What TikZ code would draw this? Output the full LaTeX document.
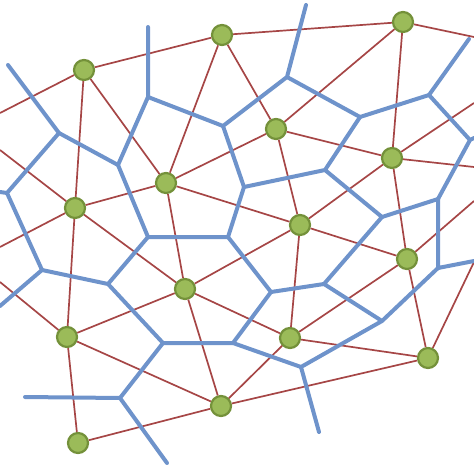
\documentclass[tikz,border=0pt]{standalone}
\usepackage{xcolor}
\usepackage{tikz}
\usetikzlibrary{positioning}
\definecolor{voronoiblue}{RGB}{110,147,203}
\definecolor{delaunayred}{RGB}{166,70,70}
\definecolor{sitegreen}{RGB}{155,187,89}
\definecolor{siteborder}{RGB}{116,145,58}
\begin{document}
\begin{tikzpicture}[x=1pt, y=-1pt]
\tikzstyle{site}     = [circle, draw=siteborder, line width=2.2pt, fill=sitegreen, minimum size=20pt, inner sep=0pt]
\tikzstyle{delaunay} = [draw=delaunayred, line width=1.7pt]
\tikzstyle{voronoi}  = [draw=voronoiblue, line width=4pt, line cap=round]
\useasboundingbox (0,0) rectangle (474,474);
% sites
\node[site] at (84,70)   (s1){};
\node[site] at (222,35)  (s2){};
\node[site] at (403,22)  (s3){};
\node[site] at (276,129) (s4){};
\node[site] at (392,158) (s5){};
\node[site] at (166,183) (s6){};
\node[site] at (75,208)  (s7){};
\node[site] at (300,225) (s8){};
\node[site] at (407,259) (s9){};
\node[site] at (185,289) (s10){};
\node[site] at (67,337)  (s11){};
\node[site] at (290,338) (s12){};
\node[site] at (428,358) (s13){};
\node[site] at (221,406) (s14){};
\node[site] at (78,443)  (s15){};
% open ends of the triangulation
\coordinate (dl1) at (0,113);
\coordinate (dl2) at (0,150);
\coordinate (dl3) at (0,247);
\coordinate (dl4) at (0,282);
\coordinate (dr1) at (474,37);
\coordinate (dr2) at (474,103);
\coordinate (dr3) at (474,167);
\coordinate (dr4) at (474,201);
\coordinate (dr5) at (474,262);
% voronoi vertices
\coordinate (v1)  at (148,97);
\coordinate (v2)  at (223,126);
\coordinate (v3)  at (118,165);
\coordinate (v4)  at (59,133);
\coordinate (v5)  at (148,237);
\coordinate (v6)  at (7,193);
\coordinate (v7)  at (42,270);
\coordinate (v8)  at (108,284);
\coordinate (v9)  at (163,343);
\coordinate (v10) at (233,343);
\coordinate (v11) at (120,398);
\coordinate (v12) at (287,77);
\coordinate (v13) at (360,117);
\coordinate (v14) at (429,95);
\coordinate (v15) at (470,140);
\coordinate (v16) at (438,199);
\coordinate (v17) at (325,170);
\coordinate (v18) at (244,187);
\coordinate (v19) at (228,237);
\coordinate (v20) at (382,217);
\coordinate (v21) at (438,268);
\coordinate (v22) at (382,321);
\coordinate (v23) at (301,367);
\coordinate (v24) at (324,284);
\coordinate (v25) at (271,292);
% open ends of the voronoi cells
\coordinate (e1)  at (148,27);
\coordinate (e2)  at (8,65);
\coordinate (e3)  at (0,192);
\coordinate (e4)  at (0,306);
\coordinate (e5)  at (25,397);
\coordinate (e6)  at (167,463);
\coordinate (e7)  at (319,432);
\coordinate (e8)  at (474,261);
\coordinate (e9)  at (474,138);
\coordinate (e10) at (469,39);
\coordinate (e11) at (306,5);
% delaunay edges
\draw[delaunay] (s1) -- (s2)  (s1) -- (s6)  (s1) -- (s7)  (s1) -- (dl1);
\draw[delaunay] (s2) -- (s3)  (s2) -- (s6)  (s2) -- (s4);
\draw[delaunay] (s3) -- (s4)  (s3) -- (s5)  (s3) -- (dr1);
\draw[delaunay] (s4) -- (s6)  (s4) -- (s5)  (s4) -- (s8);
\draw[delaunay] (s5) -- (s8)  (s5) -- (s9)  (s5) -- (dr2)  (s5) -- (dr3);
\draw[delaunay] (s6) -- (s7)  (s6) -- (s8)  (s6) -- (s10);
\draw[delaunay] (s7) -- (s10) (s7) -- (s11) (s7) -- (dl2)  (s7) -- (dl3);
\draw[delaunay] (s8) -- (s9)  (s8) -- (s10) (s8) -- (s12);
\draw[delaunay] (s9) -- (s12) (s9) -- (s13) (s9) -- (dr4);
\draw[delaunay] (s10) -- (s11) (s10) -- (s12) (s10) -- (s14);
\draw[delaunay] (s11) -- (s14) (s11) -- (s15) (s11) -- (dl4);
\draw[delaunay] (s12) -- (s14) (s12) -- (s13);
\draw[delaunay] (s13) -- (s14) (s13) -- (dr5);
\draw[delaunay] (s14) -- (s15);
% voronoi edges
\draw[voronoi] (e1) -- (v1) -- (v2)  (v1) -- (v3);
\draw[voronoi] (e2) -- (v4) -- (v3) -- (v5) -- (v19);
\draw[voronoi] (v4) -- (v6) -- (e3)  (v6) -- (v7) -- (e4);
\draw[voronoi] (v7) -- (v8) -- (v5)  (v8) -- (v9) -- (v10);
\draw[voronoi] (e5) -- (v11) -- (e6)  (v9) -- (v11);
\draw[voronoi] (e11) -- (v12) -- (v2) -- (v18)  (v12) -- (v13) -- (v14) -- (e10);
\draw[voronoi] (v14) -- (v15) -- (e9)  (v15) -- (v16);
\draw[voronoi] (v13) -- (v17) -- (v18) -- (v19)  (v17) -- (v20) -- (v16) -- (v21) -- (e8);
\draw[voronoi] (v21) -- (v22) -- (v23) -- (e7)  (v22) -- (v24) -- (v20);
\draw[voronoi] (v24) -- (v25) -- (v19)  (v25) -- (v10) -- (v23);
\end{tikzpicture}
\end{document}
